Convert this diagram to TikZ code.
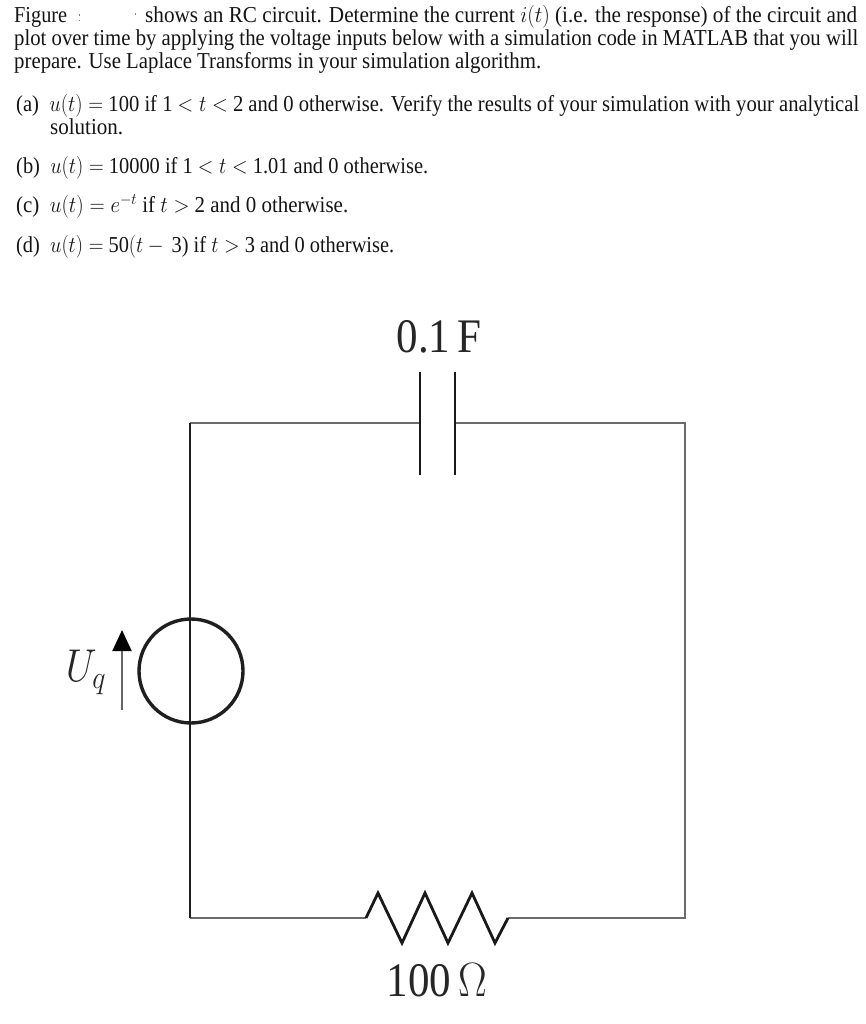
\documentclass[tikz,border=0pt]{standalone}
\usepackage{fix-cm}
\usepackage{graphicx}
\usepackage{fontspec}
\setmainfont{Liberation Serif}
\usetikzlibrary{arrows.meta}
\newcommand\fitw[2]{\resizebox{#1pt}{1.06\height}{#2}}
\tikzset{
 x=1pt,y=-1pt,
 txt/.style={anchor=base west,inner sep=0pt,font=\fontsize{21.5}{24}\selectfont,text=black!92},
 wire/.style={line width=2.8pt,draw=black!58},
 dark/.style={line width=2pt,draw=black!88},
 plate/.style={line width=2.8pt,draw=black!90},
 val/.style={inner sep=0pt,font=\fontsize{43}{46}\selectfont,text=black!85},
}
\begin{document}
\begin{tikzpicture}
\useasboundingbox[fill=white] (0,0) rectangle (866,1024);
% text
\node[txt] (t1a) at (14,23) {\fitw{53}{Figure}};
\node[txt] (t1b) at (145,23) {\fitw{712}{shows an RC circuit. Determine the current $i(t)$ (i.e. the response) of the circuit and}};
\node[txt] (t2) at (14,46) {\fitw{844}{plot over time by applying the voltage inputs below with a simulation code in MATLAB that you will}};
\node[txt] (t3) at (14,69) {\fitw{527}{prepare. Use Laplace Transforms in your simulation algorithm.}};
\node[txt] (a1) at (16,112) {\fitw{843}{(a)\ \ $u(t)=$ 100 if 1 $<t<$ 2 and 0 otherwise. Verify the results of your simulation with your analytical}};
\node[txt] (a2) at (50,135) {\fitw{73}{solution.}};
\node[txt] (b) at (16,174) {\fitw{412}{(b)\ \ $u(t)=$ 10000 if 1 $<t<$ 1.01 and 0 otherwise.}};
\node[txt] (c) at (16,213) {\fitw{332}{(c)\ \ $u(t)=e^{-t}$ if $t>$ 2 and 0 otherwise.}};
\node[txt] (d) at (16,252) {\fitw{378}{(d)\ \ $u(t)=$ 50$(t-{}$\,3) if $t>$ 3 and 0 otherwise.}};
\draw[line width=1pt,draw=black!50] (79,14) -- (79,16) (79,20) -- (79,21) (135,13) -- (135,15);
% circuit
\coordinate (tl) at (190,423);
\coordinate (tr) at (685,423);
\coordinate (br) at (685,918);
\coordinate (bl) at (190,918);
\coordinate (cl) at (420,423);
\coordinate (cr) at (455,423);
\coordinate (r0) at (366,918);
\coordinate (r7) at (508,918);
\coordinate (srct) at (191,671);
\draw[wire] (cl) -- (tl);
\draw[wire] (cr) -- (tr) -- (br) -- (r7);
\draw[wire] (r0) -- (bl);
\draw[dark] (bl) -- (tl);
\draw[plate] (420,372) -- (420,475);
\draw[plate] (455,372) -- (455,475);
\draw[plate,line join=miter] (r0) -- (378,893) -- (402,943) -- (425,893) -- (448,943) -- (472,893) -- (495,943) -- (r7);
\node[circle,draw=black!88,line width=3.4pt,minimum size=104pt,inner sep=0pt] (src) at (srct) {};
\coordinate (a0) at (122,710);
\coordinate (a1e) at (122,630);
\draw[line width=2pt,draw=black!60,-{Triangle[length=21pt,width=19pt,fill=black,color=black]}] (a0) -- (a1e);
\node[inner sep=0pt,text=black!85,font=\fontsize{40}{44}\selectfont] (uq) at (86,672) {\scalebox{1}[1.15]{$U_q$}};
\node[val] (cv) at (439,337) {\scalebox{1}[1.12]{0.1\,F}};
\node[val] (rv) at (437,980) {\scalebox{1}[1.12]{100\,$\Omega$}};
\end{tikzpicture}
\end{document}
